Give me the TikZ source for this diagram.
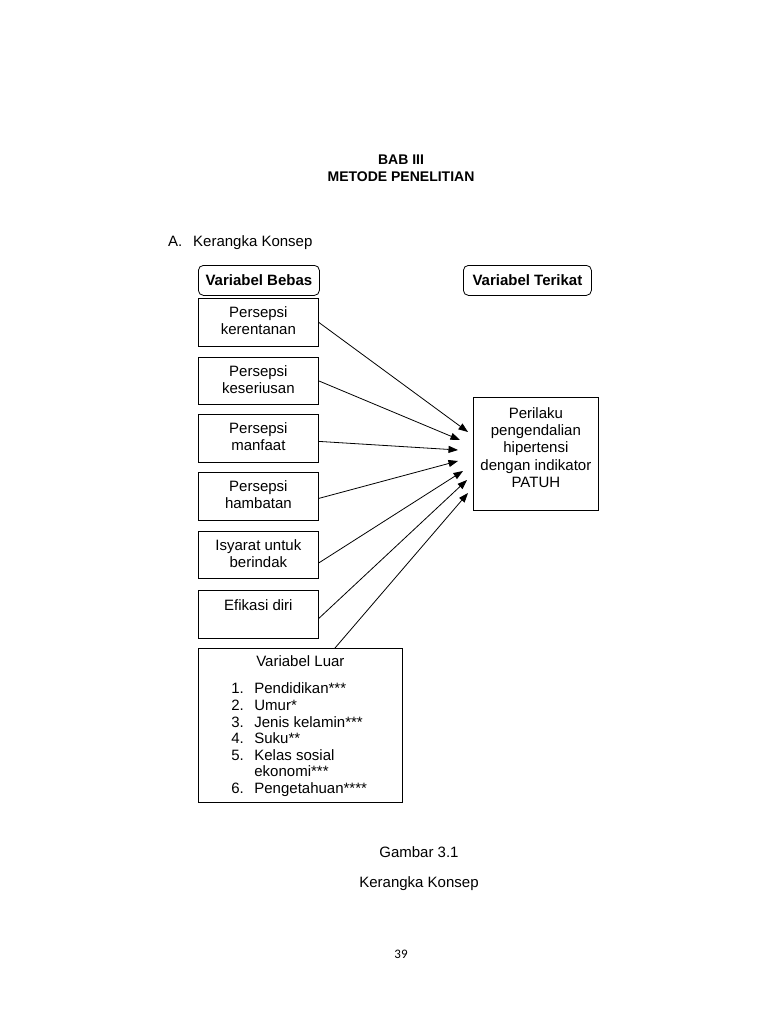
\documentclass[tikz,border=0pt]{standalone}
\usepackage{fontspec}
\setmainfont{Liberation Sans}
\newfontfamily\pagefont{Carlito}
\usetikzlibrary{arrows.meta}
\newcommand{\tbox}[4]{\parbox[c][#1][t]{#2}{\centering\vspace*{#3}#4}}
\begin{document}
\begin{tikzpicture}[x=1pt,y=-1pt,
  every node/.style={font=\fontsize{15}{17}\selectfont},
  vbox/.style={draw,line width=0.8pt,inner sep=0pt,anchor=north west},
  hbox/.style={draw,line width=0.8pt,rounded corners=5pt,anchor=north west,inner sep=0pt,
    minimum height=30pt,font=\fontsize{15}{17}\selectfont\bfseries},
  conn/.style={line width=0.8pt,-{Triangle[length=9.5pt,width=7pt]}},
  txt/.style={anchor=base,inner sep=0pt}]
\useasboundingbox[fill=white] (0,0) rectangle (768,1024);

\node[txt,font=\fontsize{14}{16}\selectfont\bfseries] (t1) at (401,165) {BAB III};
\node[txt,font=\fontsize{14}{16}\selectfont\bfseries] (t2) at (401,182) {METODE PENELITIAN};
\node[txt,anchor=base west] (sa) at (168,246) {A.};
\node[txt,anchor=base west] (sb) at (193,246) {Kerangka Konsep};

\node[hbox,minimum width=121pt] (vb) at (198,265) {Variabel Bebas};
\node[hbox,minimum width=128pt] (vt) at (463,265) {Variabel Terikat};

\node[vbox] (b1) at (198,298) {\tbox{48pt}{120pt}{8pt}{Persepsi\\kerentanan}};
\node[vbox] (b2) at (198,357) {\tbox{47pt}{120pt}{8pt}{Persepsi\\keseriusan}};
\node[vbox] (b3) at (198,414) {\tbox{48pt}{120pt}{8pt}{Persepsi\\manfaat}};
\node[vbox] (b4) at (198,472) {\tbox{48pt}{120pt}{8pt}{Persepsi\\hambatan}};
\node[vbox] (b5) at (198,531) {\tbox{47pt}{120pt}{8pt}{Isyarat untuk\\berindak}};
\node[vbox] (b6) at (198,590) {\tbox{48pt}{120pt}{9pt}{Efikasi diri}};

\node[vbox] (luar) at (198,648) {\parbox[c][154pt][t]{204pt}{\fontsize{15}{16.6}\selectfont\vspace*{7pt}%
  \centering Variabel Luar\par\vspace{11pt}\raggedright
  \hspace*{33pt}\makebox[23pt][l]{1.}Pendidikan***\\
  \hspace*{33pt}\makebox[23pt][l]{2.}Umur*\\
  \hspace*{33pt}\makebox[23pt][l]{3.}Jenis kelamin***\\
  \hspace*{33pt}\makebox[23pt][l]{4.}Suku**\\
  \hspace*{33pt}\makebox[23pt][l]{5.}Kelas sosial\\
  \hspace*{56pt}ekonomi***\\
  \hspace*{33pt}\makebox[23pt][l]{6.}Pengetahuan****}};

\node[vbox] (dv) at (473,397) {\parbox[c][113pt][t]{125pt}{\fontsize{15}{17.3}\selectfont\centering\vspace*{10pt}Perilaku\\pengendalian\\hipertensi\\dengan indikator\\PATUH}};

\coordinate (e1) at (468,432);
\coordinate (e2) at (460,440);
\coordinate (e3) at (458,450);
\coordinate (e4) at (458,461);
\coordinate (e5) at (463,471);
\coordinate (e6) at (467,480);
\coordinate (e7) at (468,493);

\draw[conn] (b1.east) -- (e1);
\draw[conn] (b2.east) -- (e2);
\draw[conn] ([yshift=-3pt]b3.east) -- (e3);
\draw[conn] ([yshift=-2pt]b4.east) -- (e4);
\draw[conn] ([yshift=-8pt]b5.east) -- (e5);
\draw[conn] ([yshift=-4pt]b6.east) -- (e6);
\draw[conn] ([xshift=137pt]luar.north west) -- (e7);

\node[txt] (g1) at (419,857) {Gambar 3.1};
\node[txt] (g2) at (419,887) {Kerangka Konsep};
\node[txt,font=\pagefont\fontsize{13}{15}\selectfont] (pg) at (401,958) {39};
\end{tikzpicture}
\end{document}
